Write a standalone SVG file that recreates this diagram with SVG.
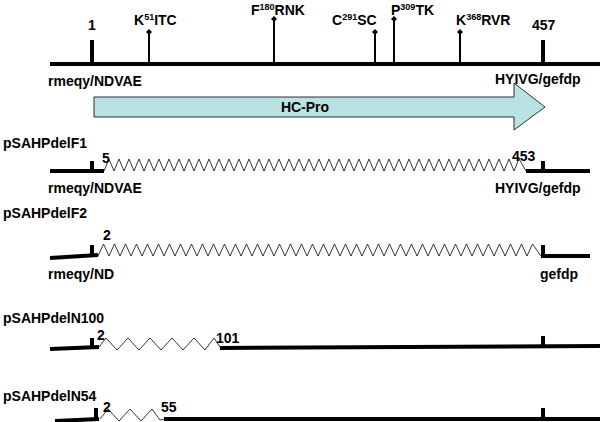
<svg xmlns="http://www.w3.org/2000/svg" width="600" height="422" viewBox="0 0 600 422">
<style>
text{font-family:"Liberation Sans",Arial,sans-serif;font-weight:bold;font-size:14px;fill:#000}
.sup{font-size:9px}
.thick{stroke:#000;stroke-width:4;fill:none}
.tick{stroke:#000;stroke-width:4;fill:none}
.stem{stroke:#000;stroke-width:2;fill:none}
.zz{stroke:#000;stroke-width:0.8;fill:none}
</style>
<rect width="600" height="422" fill="#fff"/>
<g id="full">
<line class="thick" x1="50" y1="64" x2="600" y2="64"/>
<line class="tick" x1="92" y1="40" x2="92" y2="64"/>
<line class="tick" x1="543" y1="40" x2="543" y2="64"/>
<g class="stem">
<line x1="149" y1="33" x2="149" y2="64"/><line x1="274" y1="20" x2="274" y2="64"/><line x1="375" y1="33" x2="375" y2="64"/><line x1="394" y1="20" x2="394" y2="64"/><line x1="460" y1="33" x2="460" y2="64"/></g>
<g fill="#000"><path d="M149 29l3 3-3 3-3-3z"/><path d="M274 16l3 3-3 3-3-3z"/><path d="M375 29l3 3-3 3-3-3z"/><path d="M394 16l3 3-3 3-3-3z"/><path d="M460 29l3 3-3 3-3-3z"/></g>
<text x="88" y="30">1</text><text x="532" y="30">457</text>
<text x="134" y="25">K<tspan class="sup" dy="-5">51</tspan><tspan dy="5">ITC</tspan></text>
<text x="251" y="15">F<tspan class="sup" dy="-5">180</tspan><tspan dy="5">RNK</tspan></text>
<text x="332" y="25">C<tspan class="sup" dy="-5">291</tspan><tspan dy="5">SC</tspan></text>
<text x="391" y="15">P<tspan class="sup" dy="-5">309</tspan><tspan dy="5">TK</tspan></text>
<text x="456" y="25">K<tspan class="sup" dy="-5">368</tspan><tspan dy="5">RVR</tspan></text>
<text x="48" y="86">rmeqy/NDVAE</text><text x="495" y="84">HYIVG/gefdp</text>
</g>
<g id="hcpro">
<path d="M94 97H514V83L545 107L514 130V117H94Z" fill="#b9e2e2" stroke="#000" stroke-width="0.8"/>
<text x="305" y="112" text-anchor="middle">HC-Pro</text>
</g>
<g id="F1">
<text x="3" y="148">pSAHPdelF1</text>
<polyline class="thick" points="50,171 104,171"/><line class="tick" x1="92" y1="161" x2="92" y2="171"/>
<polyline class="zz" points="104,171 109,159 114,171 119,159 124,171 129,159 134,171 139,159 144,171 149,159 154,171 159,159 164,171 169,159 174,171 179,159 184,171 189,159 194,171 199,159 204,171 209,159 214,171 219,159 224,171 229,159 234,171 239,159 244,171 249,159 254,171 259,159 264,171 269,159 274,171 279,159 284,171 289,159 294,171 299,159 304,171 309,159 314,171 319,159 324,171 329,159 334,171 339,159 344,171 349,159 354,171 359,159 364,171 369,159 374,171 379,159 384,171 389,159 394,171 399,159 404,171 409,159 414,171 419,159 424,171 429,159 434,171 439,159 444,171 449,159 454,171 459,159 464,171 469,159 474,171 479,159 484,171 489,159 494,171 499,159 504,171 509,159 514,171 519,159 526,171"/>
<polyline class="thick" points="526,171 590,171"/><line class="tick" x1="543" y1="161" x2="543" y2="171"/>
<text x="102" y="163">5</text><text x="512" y="161">453</text>
<text x="48" y="193">rmeqy/NDVAE</text><text x="495" y="193">HYIVG/gefdp</text>
</g>
<g id="F2">
<text x="3" y="218">pSAHPdelF2</text>
<polyline class="thick" points="50,258 98,255"/><line class="tick" x1="92" y1="245" x2="92" y2="256"/>
<polyline class="zz" points="98,256 103.5,244 109,256 114.5,244 120,256 125.5,244 131,256 136.5,244 142,256 147.5,244 153,256 158.5,244 164,256 169.5,244 175,256 180.5,244 186,256 191.5,244 197,256 202.5,244 208,256 213.5,244 219,256 224.5,244 230,256 235.5,244 241,256 246.5,244 252,256 257.5,244 263,256 268.5,244 274,256 279.5,244 285,256 290.5,244 296,256 301.5,244 307,256 312.5,244 318,256 323.5,244 329,256 334.5,244 340,256 345.5,244 351,256 356.5,244 362,256 367.5,244 373,256 378.5,244 384,256 389.5,244 395,256 400.5,244 406,256 411.5,244 417,256 422.5,244 428,256 433.5,244 439,256 444.5,244 450,256 455.5,244 461,256 466.5,244 472,256 477.5,244 483,256 488.5,244 494,256 499.5,244 505,256 510.5,244 516,256 521.5,244 527,256 532.5,244 541,256"/>
<polyline class="thick" points="543,245 543,256 590,256"/>
<text x="103" y="240">2</text>
<text x="48" y="279">rmeqy/ND</text><text x="540" y="279">gefdp</text>
</g>
<g id="N100">
<text x="3" y="323">pSAHPdelN100</text>
<polyline class="thick" points="50,349 99,347"/><line class="tick" x1="92" y1="338" x2="92" y2="348"/>
<polyline class="zz" points="99,347 106,338 117,350 128,338 139,350 150,338 161,350 172,338 183,350 194,338 205,350 214,338 220,347"/>
<polyline class="thick" points="220,348 600,346"/><line class="tick" x1="543" y1="336" x2="543" y2="347"/>
<text x="97" y="340">2</text><text x="216" y="343">101</text>
</g>
<g id="N54">
<text x="3" y="401">pSAHPdelN54</text>
<polyline class="thick" points="55,421 99,419"/><line class="tick" x1="96" y1="408" x2="96" y2="419"/>
<polyline class="zz" points="100,419 108,409 119,421 130,409 141,421 152,409 160,420 165,419"/>
<polyline class="thick" points="164,419 600,419"/><line class="tick" x1="543" y1="408" x2="543" y2="419"/>
<text x="103" y="412">2</text><text x="161" y="412">55</text>
</g>
</svg>
